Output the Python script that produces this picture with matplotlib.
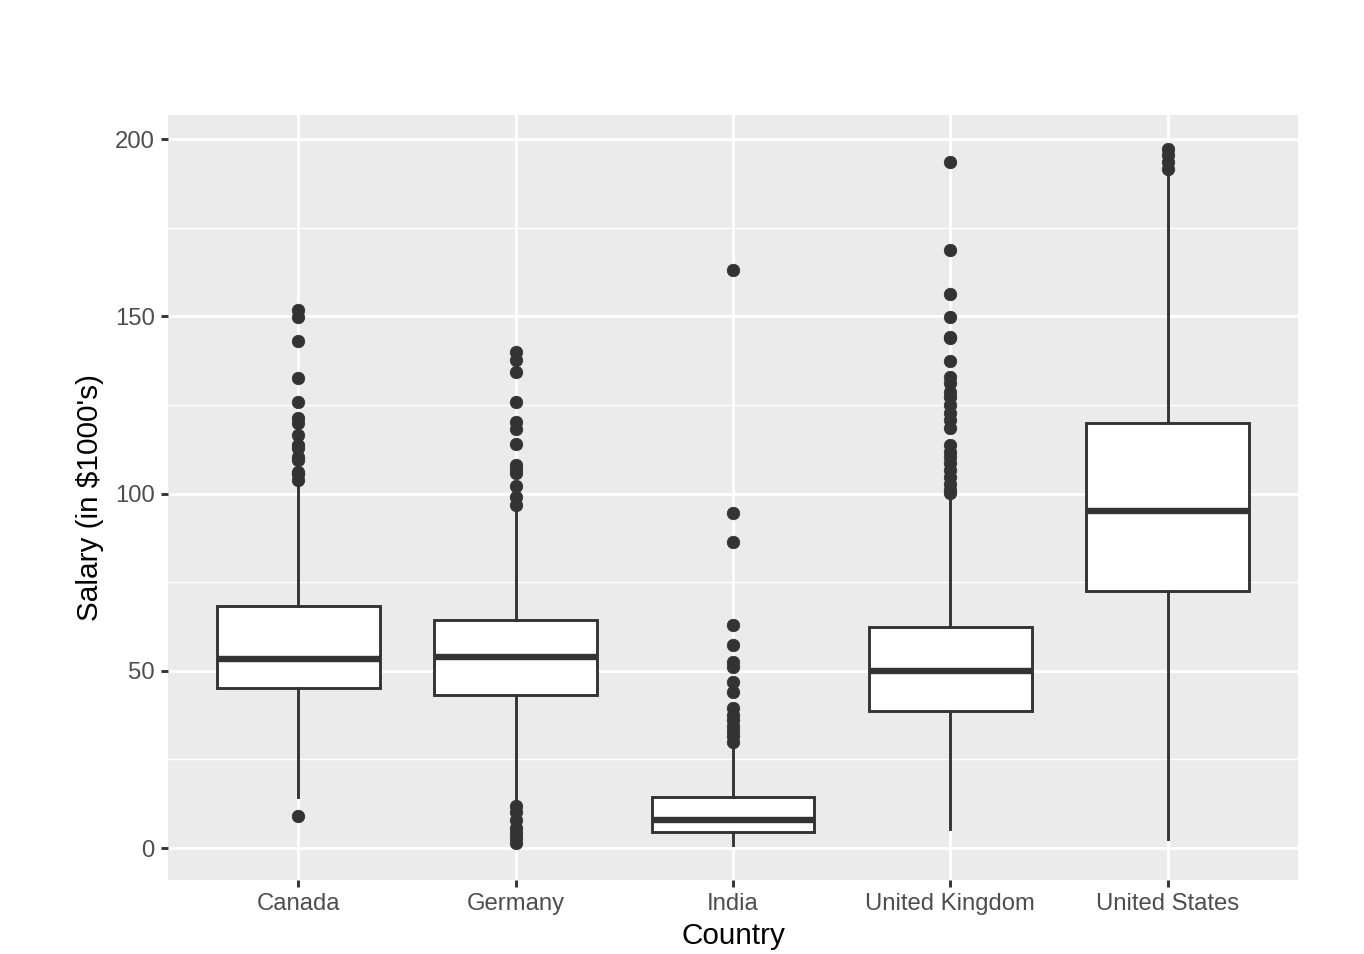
import numpy as np
import matplotlib.pyplot as plt

plt.rcParams['font.family'] = ['Liberation Sans', 'DejaVu Sans']

countries = ["Canada", "Germany", "India", "United Kingdom", "United States"]
q1 = [45.1, 43.2, 4.5, 38.6, 72.5]
medians = [53.3, 53.9, 7.9, 49.9, 95.1]
q3 = [68.3, 64.3, 14.4, 62.3, 119.9]
whisker_lo = [14.4, 12.7, 0.8, 5.4, 2.5]
whisker_hi = [103.0, 95.0, 28.6, 98.5, 189.8]

canada_out = [151.8, 149.8, 143.1, 132.5, 125.7, 121.2, 119.8, 116.5, 113.7,
              112.8, 110.4, 109.4, 106.2, 105.5, 103.8, 9.0]
germany_out = [140.0, 137.6, 134.3, 125.9, 120.3, 118.1, 113.9, 108.0, 107.0,
               105.7, 102.1, 99.1, 96.8,
               11.8, 10.2, 7.9, 5.6, 4.2, 2.8, 1.4]
india_out = [163.0, 94.5, 86.3, 62.9, 57.3, 52.6, 51.2, 46.9, 44.1,
             39.4, 37.5, 36.0, 34.5, 33.0, 31.5, 30.0]
uk_out = [193.6, 168.7, 156.2, 149.9, 144.2, 143.8, 137.4, 132.9, 131.1,
          128.7, 127.3, 125.0, 122.6, 120.7, 118.4, 113.7, 111.8, 110.4,
          108.5, 106.6, 104.7, 102.8, 101.0, 100.1]
us_out = [197.3, 195.5, 193.6, 191.7]
outliers = [canada_out, germany_out, india_out, uk_out, us_out]

stats = []
for i, c in enumerate(countries):
    stats.append(dict(label=c, q1=q1[i], med=medians[i], q3=q3[i],
                      whislo=whisker_lo[i], whishi=whisker_hi[i],
                      fliers=outliers[i]))

fig = plt.figure(figsize=(1364 / 195, 954 / 195), dpi=195)
ax = fig.add_axes([168 / 1364, 1 - 880 / 954, (1298 - 168) / 1364, (880 - 115) / 954])
ax.set_facecolor('#EBEBEB')

lw = 1.07
dark = '#333333'
ax.bxp(stats, positions=range(1, 6), widths=0.75, patch_artist=True,
       showcaps=False,
       boxprops=dict(facecolor='white', edgecolor=dark, linewidth=lw),
       whiskerprops=dict(color=dark, linewidth=lw),
       medianprops=dict(color=dark, linewidth=lw * 2.2, solid_capstyle='butt'),
       flierprops=dict(marker='o', markersize=4.6, markerfacecolor=dark,
                       markeredgecolor=dark, markeredgewidth=0.3, linestyle='none'))

ax.set_xlim(0.4, 5.6)
ax.set_ylim(-9.0, 206.8)
ax.set_yticks([0, 50, 100, 150, 200])
ax.set_yticks([25, 75, 125, 175], minor=True)
ax.set_xticks(range(1, 6))
ax.set_xticklabels(countries)

ax.grid(True, which='major', color='white', linewidth=1.07)
ax.grid(True, which='minor', axis='y', color='white', linewidth=0.53)
ax.set_axisbelow(True)
for s in ax.spines.values():
    s.set_visible(False)

ax.tick_params(which='major', length=2.75, width=1.07, color=dark,
               labelsize=8.8, labelcolor='#4D4D4D', pad=2.2)
ax.tick_params(which='minor', length=0)

ax.set_xlabel('Country', fontsize=11, color='black', labelpad=2.5)
ax.set_ylabel("Salary (in \\$1000's)", fontsize=11, color='black', labelpad=4)

plt.savefig('out.png', dpi=195)
